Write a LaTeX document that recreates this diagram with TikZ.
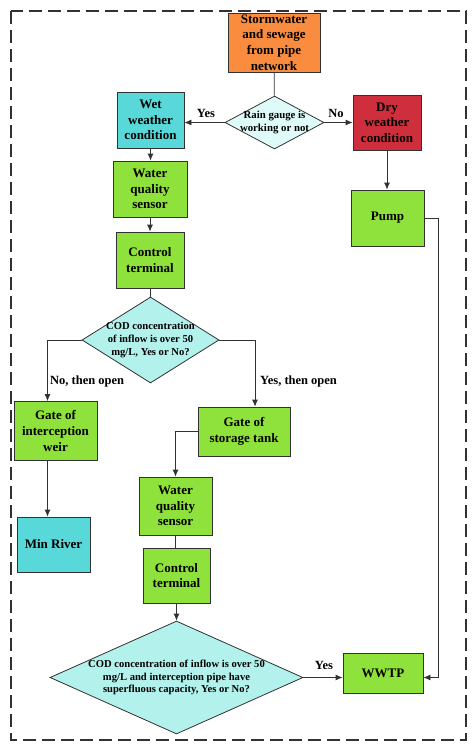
\documentclass[tikz,border=0pt]{standalone}
\usepackage{fontspec}
\setmainfont{Liberation Serif}
\usepackage{tikz}
\usetikzlibrary{%
  positioning,%
  shapes.geometric,%
  arrows.meta%
}
\definecolor{stormorange}{RGB}{249,140,62}
\definecolor{wetcyan}{RGB}{88,216,216}
\definecolor{dryred}{RGB}{207,47,60}
\definecolor{devgreen}{RGB}{143,225,59}
\definecolor{gaugecyan}{RGB}{223,251,249}
\definecolor{codcyan}{RGB}{179,242,236}
\definecolor{edgegray}{RGB}{50,50,50}

\begin{document}
\begin{tikzpicture}[x=1pt, y=-1pt,
  box/.style={draw=edgegray, line width=0.8pt, align=center, inner sep=0pt,
    font=\bfseries\fontsize{13}{15.6}\selectfont},
  dec/.style={draw=edgegray, line width=0.8pt, shape=diamond, inner sep=0pt},
  dectext/.style={align=center, inner sep=0pt,
    font=\bfseries\fontsize{10.6}{12.9}\selectfont},
  lbl/.style={inner sep=0pt, font=\bfseries\fontsize{12.5}{15}\selectfont},
  flow/.style={draw=edgegray, line width=0.8pt, -{Latex[length=7pt, width=6pt]}},
  link/.style={draw=edgegray, line width=0.8pt}]
\useasboundingbox (0,0) rectangle (474,750);
\draw[edgegray, line width=1.2pt, dash pattern=on 13pt off 6pt] (11,11) rectangle (466,740);

\node[box, fill=stormorange, minimum width=92pt, minimum height=59pt] (storm) at (274,42.5) {Stormwater\\and sewage\\from pipe\\network};
\node[dec, fill=gaugecyan, minimum width=99pt, minimum height=53pt] (rain) at (274.5,122.5) {};
\node[dectext, font=\bfseries\fontsize{10.8}{13.3}\selectfont] (raintxt) at (rain) {Rain gauge is\\working or not};
\node[box, fill=wetcyan, minimum width=67pt, minimum height=56pt] (wet) at (150.5,120) {Wet\\weather\\condition};
\node[box, fill=dryred, minimum width=68pt, minimum height=55pt] (dry) at (387,122.5) {Dry\\weather\\condition};
\node[box, fill=devgreen, minimum width=73pt, minimum height=56pt] (pump) at (387.5,218) {Pump};
\node[box, fill=devgreen, minimum width=74pt, minimum height=56pt] (wqs1) at (150,189) {Water\\quality\\sensor};
\node[box, fill=devgreen, minimum width=68pt, minimum height=56pt] (ctrl1) at (150,260) {Control\\terminal};
\node[dec, fill=codcyan, minimum width=137pt, minimum height=86pt] (cod1) at (150.5,340) {};
\node[dectext] (cod1txt) at (cod1) {COD concentration\\of inflow is over 50\\mg/L, Yes or No?};
\node[box, fill=devgreen, minimum width=83pt, minimum height=59pt] (gatew) at (55.5,431) {Gate of\\interception\\weir};
\node[box, fill=wetcyan, minimum width=73pt, minimum height=55pt] (minriver) at (53.5,544.5) {Min River};
\node[box, fill=devgreen, minimum width=92pt, minimum height=49pt] (gates) at (244,431.5) {Gate of\\storage tank};
\node[box, fill=devgreen, minimum width=73pt, minimum height=58pt] (wqs2) at (175.5,506) {Water\\quality\\sensor};
\node[box, fill=devgreen, minimum width=67pt, minimum height=55pt] (ctrl2) at (176.5,575.5) {Control\\terminal};
\node[dec, fill=codcyan, minimum width=253pt, minimum height=113pt] (cod2) at (176.5,677.5) {};
\node[dectext] (cod2txt) at (cod2) {COD concentration of inflow is over 50\\mg/L and interception pipe have\\superfluous capacity, Yes or No?};
\node[box, fill=devgreen, minimum width=80pt, minimum height=40pt] (wwtp) at (383,673) {WWTP};

\node[lbl] (yeswet) at (206,113) {Yes};
\node[lbl] (nodry) at (336,113) {No};
\node[lbl, anchor=west] (noopen) at (50,381) {No, then open};
\node[lbl, anchor=west] (yesopen) at (260,381) {Yes, then open};
\node[lbl] (yeswwtp) at (324,665) {Yes};

\draw[link] (storm) -- (rain);
\draw[flow] (rain.west) -- (rain.west -| wet.east);
\draw[flow] (rain.east) -- (rain.east -| dry.west);
\draw[flow] (dry.south) -- (dry.south |- pump.north);
\draw[flow] (wet.south) -- (wet.south |- wqs1.north);
\draw[flow] (wqs1.south) -- (wqs1.south |- ctrl1.north);
\draw[link] (ctrl1.south) -- (ctrl1.south |- cod1.north);
\draw[flow] (cod1.west) -| ([xshift=-8pt]gatew.north);
\draw[flow] (cod1.east) -| ([xshift=11pt]gates.north);
\draw[flow] ([xshift=-8pt]gatew.south) -- ([xshift=-8pt]gatew.south |- minriver.north);
\draw[flow] (gates.west) -| (wqs2.north);
\draw[link] (wqs2.south) -- (wqs2.south |- ctrl2.north);
\draw[flow] (ctrl2.south) -- (ctrl2.south |- cod2.north);
\draw[flow] (cod2.east) -- (cod2.east -| wwtp.west);
\draw[flow] (pump.east) -- ++(14,0) |- (cod2.east -| wwtp.east);
\end{tikzpicture}
\end{document}
